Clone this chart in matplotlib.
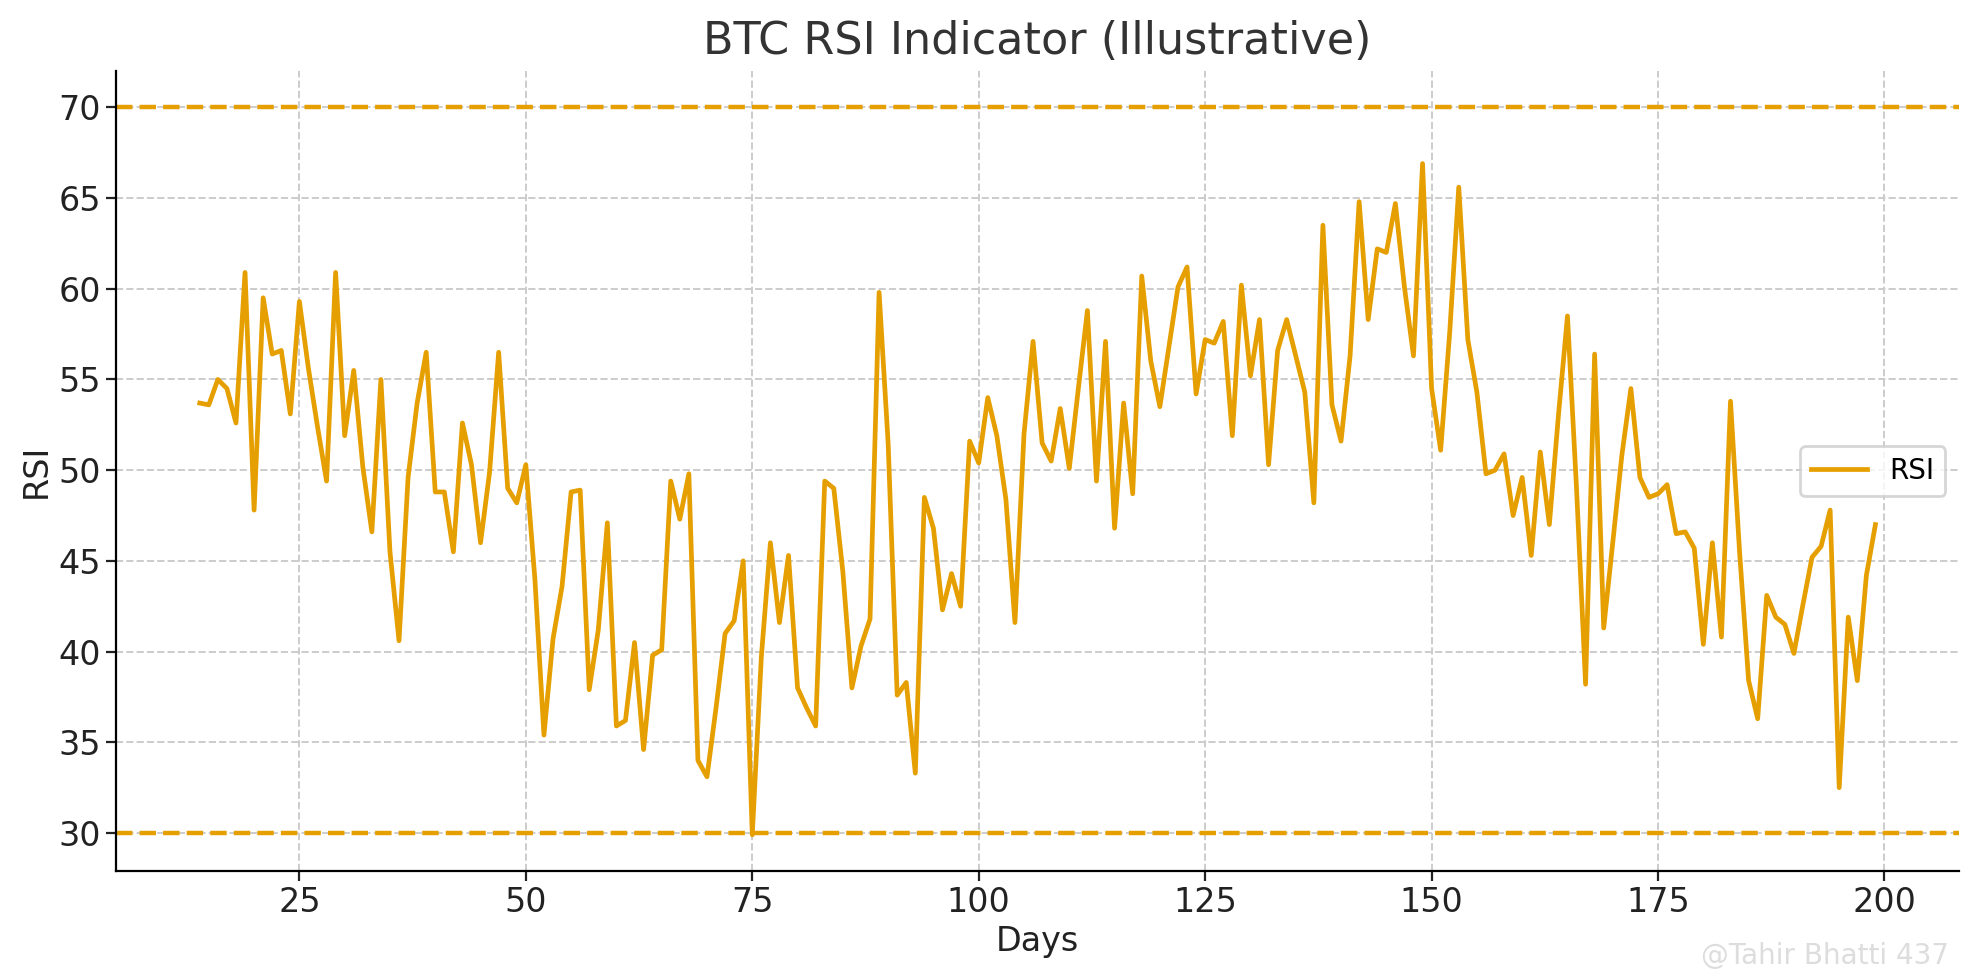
import matplotlib.pyplot as plt

# RSI values, one per day from day 14 to day 199
days = list(range(14, 200))
rsi = [
    53.7, 53.6, 55.0, 54.5, 52.6, 60.9, 47.8, 59.5, 56.4, 56.6,   # 14-23
    53.1, 59.3, 55.6, 52.4, 49.4, 60.9, 51.9, 55.5, 50.2, 46.6,   # 24-33
    55.0, 45.5, 40.6, 49.6, 53.7, 56.5, 48.8, 48.8, 45.5, 52.6,   # 34-43
    50.3, 46.0, 49.9, 56.5, 49.0, 48.2, 50.3, 44.0, 35.4, 40.7,   # 44-53
    43.6, 48.8, 48.9, 37.9, 41.2, 47.1, 35.9, 36.2, 40.5, 34.6,   # 54-63
    39.8, 40.1, 49.4, 47.3, 49.8, 34.0, 33.1, 36.9, 41.0, 41.7,   # 64-73
    45.0, 29.9, 39.7, 46.0, 41.6, 45.3, 38.0, 36.9, 35.9, 49.4,   # 74-83
    49.0, 44.4, 38.0, 40.3, 41.8, 59.8, 51.5, 37.6, 38.3, 33.3,   # 84-93
    48.5, 46.8, 42.3, 44.3, 42.5, 51.6, 50.4, 54.0, 51.9, 48.4,   # 94-103
    41.6, 52.0, 57.1, 51.5, 50.5, 53.4, 50.1, 54.5, 58.8, 49.4,   # 104-113
    57.1, 46.8, 53.7, 48.7, 60.7, 56.0, 53.5, 56.8, 60.1, 61.2,   # 114-123
    54.2, 57.2, 57.0, 58.2, 51.9, 60.2, 55.2, 58.3, 50.3, 56.6,   # 124-133
    58.3, 56.3, 54.3, 48.2, 63.5, 53.6, 51.6, 56.3, 64.8, 58.3,   # 134-143
    62.2, 62.0, 64.7, 60.1, 56.3, 66.9, 54.5, 51.1, 57.6, 65.6,   # 144-153
    57.2, 54.3, 49.8, 50.0, 50.9, 47.5, 49.6, 45.3, 51.0, 47.0,   # 154-163
    53.0, 58.5, 49.0, 38.2, 56.4, 41.3, 46.0, 50.8, 54.5, 49.6,   # 164-173
    48.5, 48.7, 49.2, 46.5, 46.6, 45.7, 40.4, 46.0, 40.8, 53.8,   # 174-183
    45.5, 38.4, 36.3, 43.1, 41.9, 41.5, 39.9, 42.6, 45.2, 45.8,   # 184-193
    47.8, 32.5, 41.9, 38.4, 44.2, 47.0,                           # 194-199
]
overbought = 70
oversold = 30

color = '#E69F00'

fig = plt.figure(figsize=(9.895, 4.9), dpi=200)
ax = fig.add_axes([0.0586, 0.111, 0.9314, 0.8166])

ax.plot(days, rsi, color=color, linewidth=1.7, label='RSI')
ax.axhline(overbought, color=color, linestyle='--', linewidth=1.6)
ax.axhline(oversold, color=color, linestyle='--', linewidth=1.6)

ax.set_title('BTC RSI Indicator (Illustrative)', fontsize=16, color='#333333')
ax.set_xlabel('Days', fontsize=12, color='#222222', labelpad=2)
ax.set_ylabel('RSI', fontsize=12, color='#222222', labelpad=2)
ax.tick_params(labelsize=12, colors='#222222', pad=2)
ax.grid(True, linestyle='--', color='#cccccc', linewidth=0.7)
ax.spines['top'].set_visible(False)
ax.spines['right'].set_visible(False)
ax.legend(loc='center right', fontsize=10)

fig.text(0.985, 0.024, '@Tahir Bhatti 437', ha='right', va='center',
         fontsize=10, color='#dddddd')

fig.savefig('out.png', dpi=200)
